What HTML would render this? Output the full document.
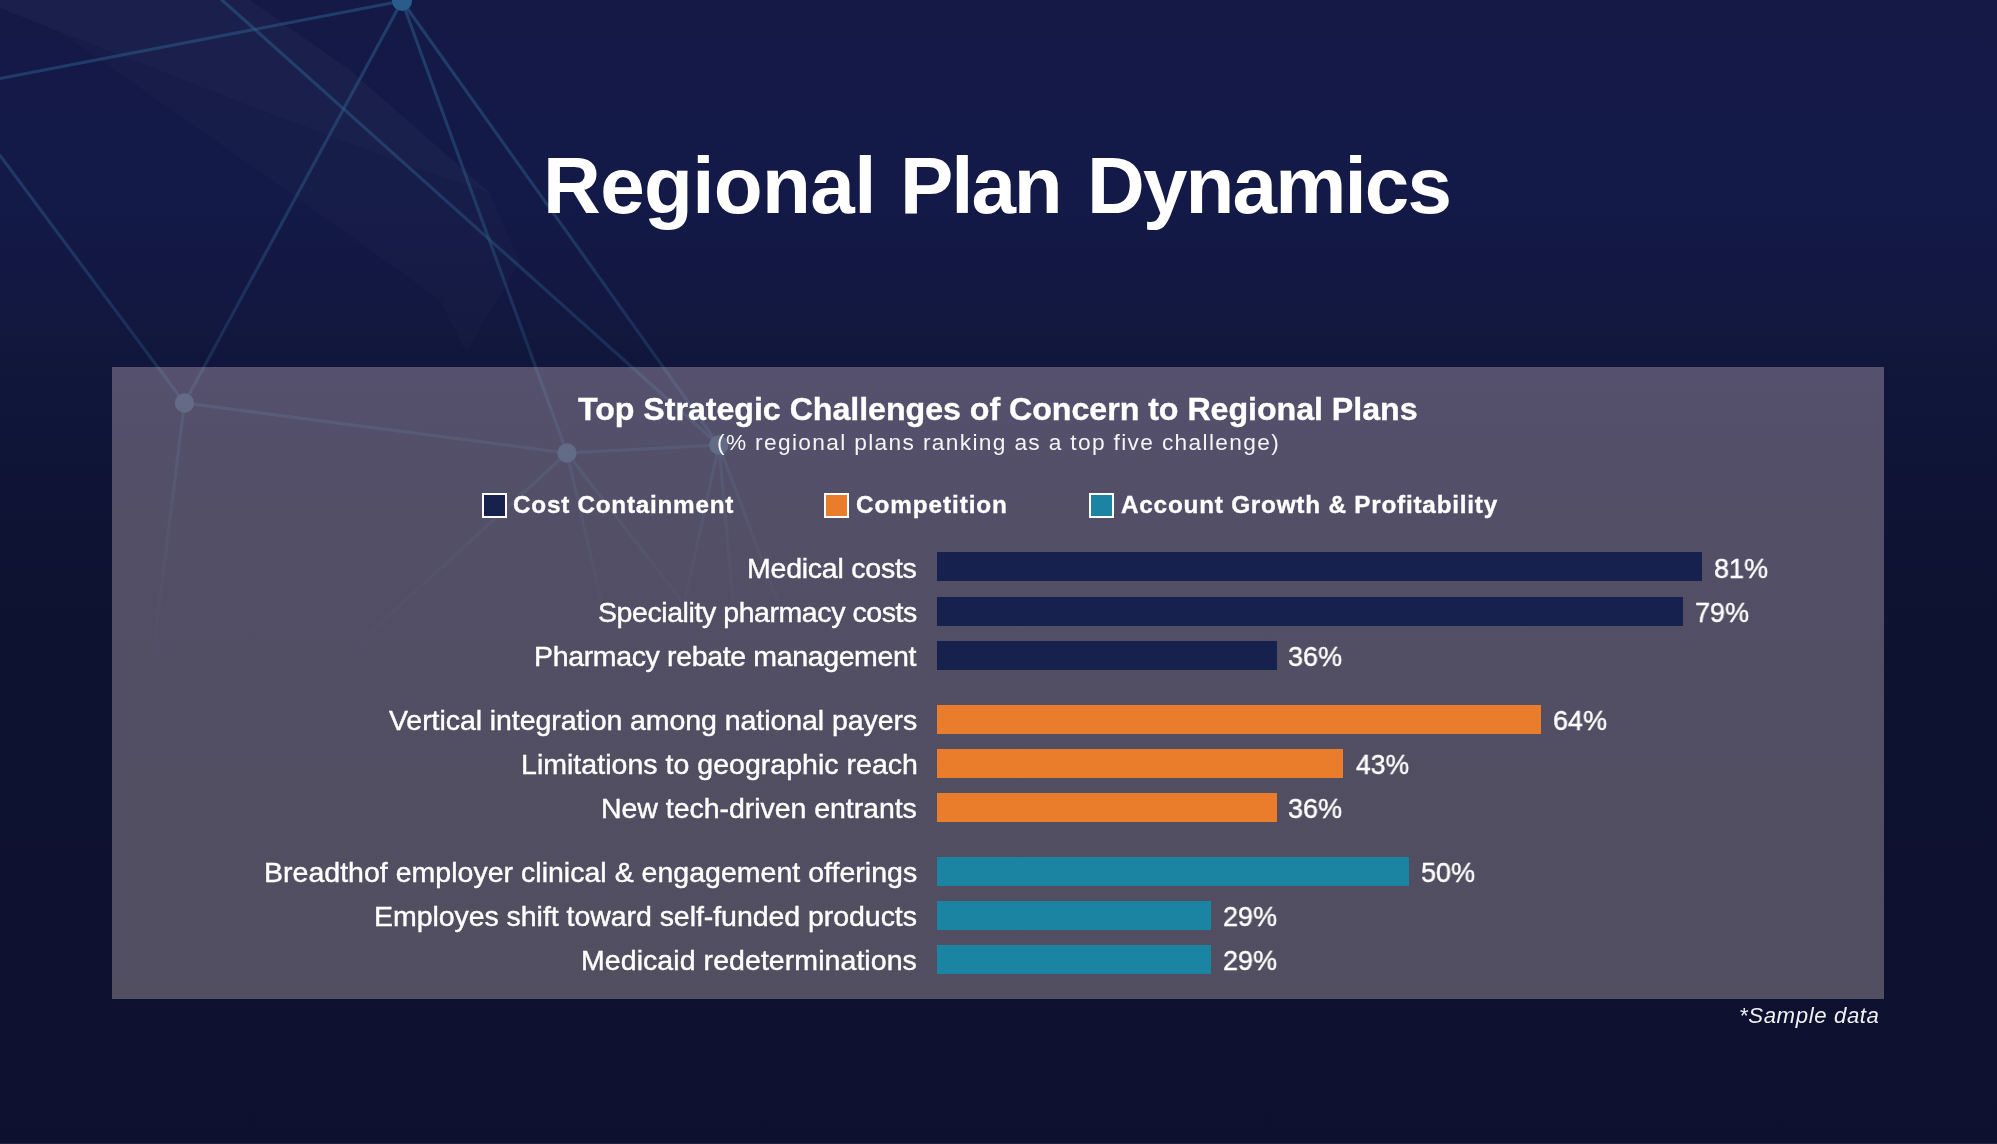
<!DOCTYPE html>
<html lang="en">
<head>
<meta charset="utf-8">
<title>Regional Plan Dynamics</title>
<style>
html,body,h1,h2,p{margin:0;padding:0}
h1,h2,p{font-weight:normal;font-size:inherit}
body{width:1997px;height:1144px;overflow:hidden;position:relative;font-family:"Liberation Sans", sans-serif;color:#fff;
background:linear-gradient(180deg,#141946 0px,#141a47 200px,#121842 280px,#11173c 350px,#0f1538 430px,#0e1332 570px,#0d1230 760px,#0d112f 1144px);}
.net{position:absolute;left:0;top:0}
.panel{position:absolute;left:112px;top:367px;width:1772px;height:632px;background:linear-gradient(180deg,rgba(212,189,204,0.35),rgba(207,192,186,0.35))}
.t{position:absolute;white-space:nowrap;will-change:transform}
.t.sx{transform-origin:0 0}
.t.lt{color:rgba(255,255,255,.94)}
.t.m{-webkit-text-stroke:0.42px #fff}
.t.hv{-webkit-text-stroke:0.35px #fff}
.sw{position:absolute;top:493px;width:21px;height:21px;border:2px solid #fff}
.bar{position:absolute;left:937px;height:29px}
.bar.n{background:#16214e} .bar.o{background:#e97d2b} .bar.t{background:#1a84a2}
.edge{position:absolute;left:0;top:1143px;width:1997px;height:1px;background:#1e2240}
</style>
</head>
<body>
<svg class="net" width="1997" height="1144" viewBox="0 0 1997 1144">
<defs>
<linearGradient id="fade" gradientUnits="userSpaceOnUse" x1="0" y1="0" x2="0" y2="670">
<stop offset="0" stop-color="#2a5a88" stop-opacity="0.56"/>
<stop offset="0.3" stop-color="#2a5a88" stop-opacity="0.48"/>
<stop offset="0.54" stop-color="#2a5a88" stop-opacity="0.34"/>
<stop offset="0.62" stop-color="#2a5a88" stop-opacity="0.26"/>
<stop offset="0.80" stop-color="#2a5a88" stop-opacity="0.12"/>
<stop offset="1" stop-color="#2a5a88" stop-opacity="0"/>
</linearGradient>
</defs>
<g fill="#ffffff" stroke="none">
<polygon fill-opacity="0.026" points="0,0 250,0 350,70 490,193 420,170 260,110 60,32 0,8"/>
<polygon fill-opacity="0.015" points="60,32 260,110 420,170 490,193 520,262 466,352 440,300 300,200"/>
</g>
<g stroke="url(#fade)" stroke-width="3.1" fill="none" stroke-linecap="round">
<line x1="402" y1="1" x2="0" y2="78.5"/>
<line x1="402" y1="1" x2="184.5" y2="403"/>
<line x1="0" y1="155.5" x2="184.5" y2="403"/>
<line x1="402" y1="1" x2="567" y2="453"/>
<line x1="402" y1="1" x2="718.8" y2="445"/>
<line x1="222" y1="0" x2="718.8" y2="445"/>
<line x1="184.5" y1="403" x2="567" y2="453"/>
<line x1="567" y1="453" x2="718.8" y2="445"/>
<line x1="184.5" y1="403" x2="151" y2="670"/>
<line x1="567" y1="453" x2="362" y2="640"/>
<line x1="567" y1="453" x2="601.01" y2="600"/>
<line x1="567" y1="453" x2="681" y2="600"/>
<line x1="718.8" y1="445" x2="685" y2="600"/>
<line x1="718.8" y1="445" x2="733" y2="600"/>
<line x1="718.8" y1="445" x2="777" y2="600"/>
</g>
<circle cx="402" cy="1" r="10" fill="#2a5c8a"/>
<g fill="#263f62">
<circle cx="184.5" cy="403" r="9.7"/>
<circle cx="567" cy="453" r="9.7"/>
<circle cx="718.8" cy="445" r="9.7"/>
</g>
</svg>
<div class="panel"></div>
<h1><span class="t" style="left:542.90px;top:146.38px;font-size:80px;line-height:80px;letter-spacing:-0.627px;font-weight:bold;">Regional</span> <span class="t" style="left:899.50px;top:146.38px;font-size:80px;line-height:80px;letter-spacing:-2.093px;font-weight:bold;">Plan</span> <span class="t" style="left:1086.70px;top:146.38px;font-size:80px;line-height:80px;letter-spacing:-1.854px;font-weight:bold;">Dynamics</span></h1>
<h2 class="t hv" style="left:578.40px;top:392.74px;font-size:32.2px;line-height:32.2px;letter-spacing:-0.042px;font-weight:bold;">Top Strategic Challenges of Concern to Regional Plans</h2>
<p class="t lt" style="left:717.10px;top:431.08px;font-size:22.7px;line-height:22.7px;letter-spacing:1.349px;">(% regional plans ranking as a top five challenge)</p>
<div class="legend">
<span class="sw" style="left:482px;background:#16214e"></span><span class="t hv" style="left:513.00px;top:493.23px;font-size:24.3px;line-height:24.3px;letter-spacing:0.745px;font-weight:bold;">Cost Containment</span>
<span class="sw" style="left:824px;background:#e97d2b"></span><span class="t hv" style="left:856.00px;top:493.23px;font-size:24.3px;line-height:24.3px;letter-spacing:0.923px;font-weight:bold;">Competition</span>
<span class="sw" style="left:1089px;background:#1a84a2"></span><span class="t hv" style="left:1121.30px;top:493.23px;font-size:24.3px;line-height:24.3px;letter-spacing:0.778px;font-weight:bold;">Account Growth &amp; Profitability</span>
</div>
<div class="chart">
<div class="row"><span class="t m" style="left:746.90px;top:553.67px;font-size:28.5px;line-height:28.5px;letter-spacing:-0.233px;">Medical costs</span><span class="bar n" style="top:552.1px;width:764.8px"></span><span class="t m sx" style="left:1714.15px;top:553.67px;font-size:28.5px;line-height:28.5px;transform:scaleX(0.9479);">81%</span></div>
<div class="row"><span class="t m" style="left:597.50px;top:598.07px;font-size:28.5px;line-height:28.5px;letter-spacing:-0.425px;">Speciality pharmacy costs</span><span class="bar n" style="top:596.5px;width:745.9px"></span><span class="t m sx" style="left:1695.27px;top:598.07px;font-size:28.5px;line-height:28.5px;transform:scaleX(0.9479);">79%</span></div>
<div class="row"><span class="t m" style="left:534.00px;top:642.27px;font-size:28.5px;line-height:28.5px;letter-spacing:-0.355px;">Pharmacy rebate management</span><span class="bar n" style="top:640.7px;width:339.9px"></span><span class="t m sx" style="left:1288.46px;top:642.27px;font-size:28.5px;line-height:28.5px;transform:scaleX(0.9479);">36%</span></div>
<div class="row"><span class="t m" style="left:388.60px;top:706.07px;font-size:28.5px;line-height:28.5px;letter-spacing:-0.063px;">Vertical integration among national payers</span><span class="bar o" style="top:704.5px;width:604.3px"></span><span class="t m sx" style="left:1552.84px;top:706.07px;font-size:28.5px;line-height:28.5px;transform:scaleX(0.9479);">64%</span></div>
<div class="row"><span class="t m" style="left:521.40px;top:750.17px;font-size:28.5px;line-height:28.5px;letter-spacing:0.030px;">Limitations to geographic reach</span><span class="bar o" style="top:748.6px;width:406.0px"></span><span class="t m sx" style="left:1355.51px;top:750.17px;font-size:28.5px;line-height:28.5px;transform:scaleX(0.9312);">43%</span></div>
<div class="row"><span class="t m" style="left:600.90px;top:794.37px;font-size:28.5px;line-height:28.5px;letter-spacing:-0.042px;">New tech-driven entrants</span><span class="bar o" style="top:792.8px;width:339.9px"></span><span class="t m sx" style="left:1288.46px;top:794.37px;font-size:28.5px;line-height:28.5px;transform:scaleX(0.9479);">36%</span></div>
<div class="row"><span class="t m" style="left:263.60px;top:858.27px;font-size:28.5px;line-height:28.5px;letter-spacing:0.020px;">Breadthof employer clinical &amp; engagement offerings</span><span class="bar t" style="top:856.7px;width:472.1px"></span><span class="t m sx" style="left:1421.45px;top:858.27px;font-size:28.5px;line-height:28.5px;transform:scaleX(0.9479);">50%</span></div>
<div class="row"><span class="t m" style="left:373.80px;top:902.37px;font-size:28.5px;line-height:28.5px;letter-spacing:-0.048px;">Employes shift toward self-funded products</span><span class="bar t" style="top:900.8px;width:273.8px"></span><span class="t m sx" style="left:1223.17px;top:902.37px;font-size:28.5px;line-height:28.5px;transform:scaleX(0.9479);">29%</span></div>
<div class="row"><span class="t m" style="left:580.90px;top:946.47px;font-size:28.5px;line-height:28.5px;letter-spacing:0.067px;">Medicaid redeterminations</span><span class="bar t" style="top:944.9px;width:273.8px"></span><span class="t m sx" style="left:1223.17px;top:946.47px;font-size:28.5px;line-height:28.5px;transform:scaleX(0.9479);">29%</span></div>
</div>
<p class="t lt" style="left:1739.40px;top:1004.91px;font-size:22.2px;line-height:22.2px;letter-spacing:0.612px;font-style:italic;">*Sample data</p>
<div class="edge"></div>
</body>
</html>
